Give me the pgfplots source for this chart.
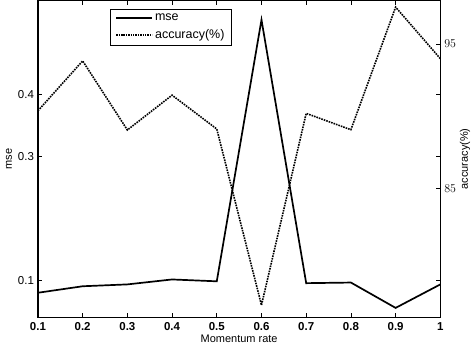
\documentclass[border=0pt]{standalone}
\usepackage{pgfplots}
\pgfplotsset{compat=1.18}
\usepackage{fontspec}
\setmainfont{Liberation Sans}
\begin{document}
\fontsize{11.5}{13}\selectfont
\begin{tikzpicture}
\begin{axis}[
  name=ax,
  at={(0,0)}, anchor=south west,
  scale only axis, width=403pt, height=317pt,
  xmin=0.1, xmax=1, ymin=0.04, ymax=0.552,
  xtick={0.1,0.2,0.3,0.4,0.5,0.6,0.7,0.8,0.9,1},
  xticklabels={0.1,0.2,0.3,0.4,0.5,0.6,0.7,0.8,0.9,1},
  ytick={0.1,0.3,0.4},
  yticklabels={0.1,0.3,0.4},
  xtick pos=both, ytick pos=both,
  tick align=inside, major tick length=4pt,
  axis line style={line width=1.3pt},
  tick style={line width=0.8pt, black},
  x tick label style={font=\fontsize{11.5}{13}\selectfont\bfseries, yshift=-1pt},
  y tick label style={font=\fontsize{11.5}{13}\selectfont},
  xlabel={Momentum rate}, ylabel={mse},
  xlabel style={font=\fontsize{11}{12}\selectfont, yshift=3pt},
  ylabel style={font=\fontsize{11}{12}\selectfont, yshift=-2pt},
  legend style={at={(0.179,0.975)}, anchor=north west, draw=black, line width=1pt,
    font=\fontsize{12.5}{13}\selectfont, inner xsep=5pt, inner ysep=3pt, row sep=3pt},
  legend cell align=left,
  legend image code/.code={\draw[#1] (0pt,0pt) -- (36pt,0pt);},
]
\addplot[black, line width=1.7pt] coordinates {
(0.1,0.0795) (0.2,0.090) (0.3,0.093) (0.4,0.101) (0.5,0.098)
(0.6,0.521) (0.7,0.095) (0.8,0.096) (0.9,0.055) (1,0.093)};
\addlegendentry{mse}
\addlegendimage{black, line width=1.4pt, densely dotted}
\addlegendentry{accuracy(\%)}
\end{axis}
\begin{axis}[
  at={(0,0)}, anchor=south west,
  scale only axis, width=403pt, height=317pt,
  xmin=0.1, xmax=1, ymin=76.1, ymax=98,
  axis x line=none, axis y line*=right,
  ytick={85,95},
  tick align=inside, major tick length=4pt,
  axis line style={line width=1.3pt},
  tick style={line width=0.8pt, black},
  y tick label style={font=\fontsize{11.5}{13}\selectfont},
  ylabel={accuracy(\%)},
  ylabel style={font=\fontsize{11}{12}\selectfont, yshift=4pt},
]
\addplot[black, line width=1.6pt, densely dotted] coordinates {
(0.1,90.38) (0.2,93.83) (0.3,89.05) (0.4,91.46) (0.5,89.12)
(0.6,76.93) (0.7,90.2) (0.8,89.07) (0.9,97.55) (1,93.99)};
\end{axis}
\path[use as bounding box] (-38pt,-31pt) rectangle (436pt,317.5pt);
\end{tikzpicture}
\end{document}
